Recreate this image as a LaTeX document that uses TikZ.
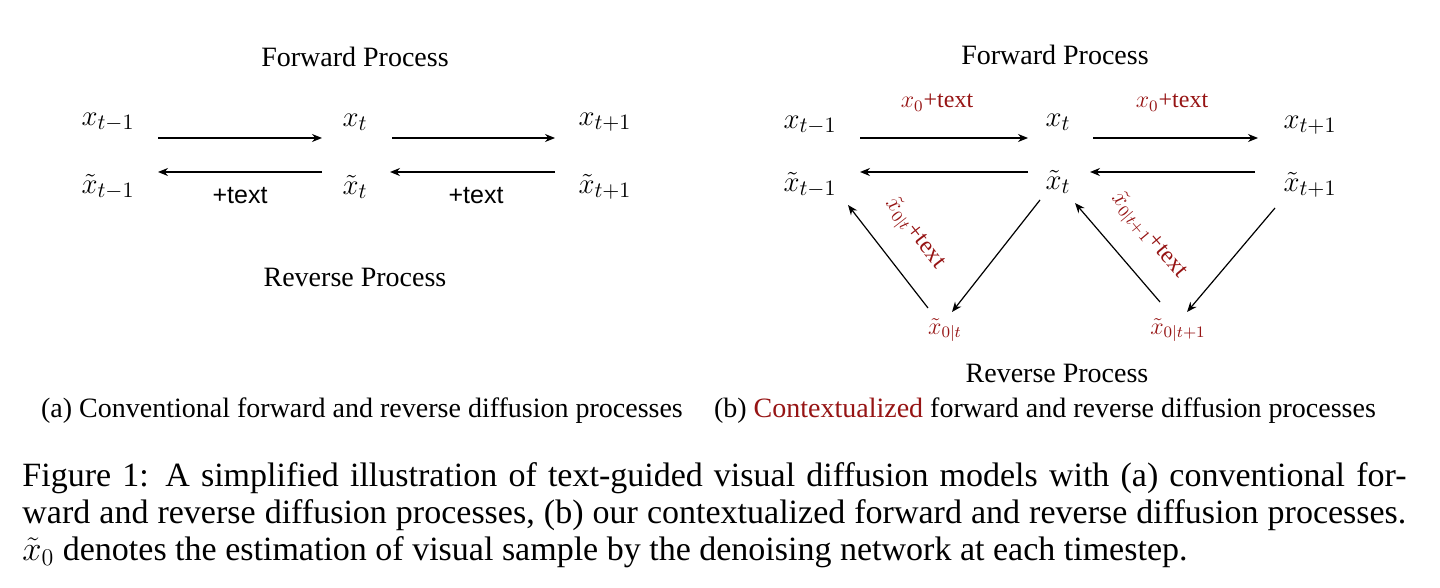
\documentclass[tikz,border=0pt]{standalone}
\usepackage{amsmath}
\usepackage{fontspec}
\setmainfont{Liberation Serif}
\setsansfont{Liberation Sans}
\usetikzlibrary{arrows.meta}
\definecolor{dred}{RGB}{150,20,20}
\begin{document}
\begin{tikzpicture}[x=0.5pt,y=-0.5pt,
  arr/.style={-{Stealth[length=5pt,width=4pt]},line width=0.6pt},
  lbl/.style={font=\fontsize{14}{16}\selectfont},
  mth/.style={font=\fontsize{15}{17}\selectfont},
  red/.style={text=dred,font=\fontsize{12}{14}\selectfont},
  sf/.style={font=\sffamily\fontsize{12.5}{14}\selectfont}]
\useasboundingbox (0,0) rectangle (1440,588);
% left
\node[lbl] (fa) at (355,57) {Forward Process};
\node[mth] (a1) at (108,122) {$x_{t-1}$};
\node[mth] (a2) at (355,122) {$x_t$};
\node[mth] (a3) at (605,122) {$x_{t+1}$};
\node[mth] (b1) at (108,187) {$\tilde{x}_{t-1}$};
\node[mth] (b2) at (355,187) {$\tilde{x}_t$};
\node[mth] (b3) at (605,187) {$\tilde{x}_{t+1}$};
\coordinate (p1) at (158,138); \coordinate (p2) at (322,138);
\coordinate (p3) at (392,138); \coordinate (p4) at (555,138);
\coordinate (q1) at (158,172); \coordinate (q2) at (322,172);
\coordinate (q3) at (390,172); \coordinate (q4) at (555,172);
\draw[arr] (p1) -- (p2); \draw[arr] (p3) -- (p4);
\draw[arr] (q2) -- (q1); \draw[arr] (q4) -- (q3);
\node[sf] (t1) at (240,196) {+text};
\node[sf] (t2) at (476,196) {+text};
\node[lbl] (ra) at (355,277) {Reverse Process};
\node[lbl] (ca) at (362,411) {(a) Conventional forward and reverse diffusion processes};
% right
\node[lbl] (fb) at (1055,55) {Forward Process};
\node[mth] (c1) at (810,125) {$x_{t-1}$};
\node[mth] (c2) at (1058,122) {$x_t$};
\node[mth] (c3) at (1310,125) {$x_{t+1}$};
\node[mth] (d1) at (810,185) {$\tilde{x}_{t-1}$};
\node[mth] (d2) at (1058,182) {$\tilde{x}_t$};
\node[mth] (d3) at (1310,185) {$\tilde{x}_{t+1}$};
\coordinate (r1) at (860,138); \coordinate (r2) at (1028,138);
\coordinate (r3) at (1093,138); \coordinate (r4) at (1258,138);
\coordinate (s1) at (860,172); \coordinate (s2) at (1028,172);
\coordinate (s3) at (1090,172); \coordinate (s4) at (1255,172);
\draw[arr] (r1) -- (r2); \draw[arr] (r3) -- (r4);
\draw[arr] (s2) -- (s1); \draw[arr] (s4) -- (s3);
\node[red] (u1) at (937,103) {$x_0$+text};
\node[red] (u2) at (1172,103) {$x_0$+text};
\node[red] (e1) at (945,330) {$\tilde{x}_{0|t}$};
\node[red] (e2) at (1178,330) {$\tilde{x}_{0|t+1}$};
\coordinate (k1) at (1040,200); \coordinate (k2) at (952,312);
\coordinate (k3) at (928,308); \coordinate (k4) at (848,205);
\coordinate (m1) at (1275,208); \coordinate (m2) at (1187,312);
\coordinate (m3) at (1160,302); \coordinate (m4) at (1075,203);
\draw[arr] (k1) -- (k2); \draw[arr] (k3) -- (k4);
\draw[arr] (m1) -- (m2); \draw[arr] (m3) -- (m4);
\node[red,rotate=-52,inner sep=1pt] (v1) at (914,234) {$\tilde{x}_{0|t}$+text};
\node[red,rotate=-50,inner sep=1pt] (v2) at (1148,236) {$\tilde{x}_{0|t+1}$+text};
\node[lbl] (rb) at (1057,373) {Reverse Process};
\node[lbl] (cb) at (1045,411) {(b) \textcolor{dred}{Contextualized} forward and reverse diffusion processes};
% caption
\node[anchor=north west,text width=692pt,inner sep=0pt,align=justify,
  font=\fontsize{17}{18.5}\selectfont] (cap) at (22,462)
 {Figure 1: A simplified illustration of text-guided visual diffusion models with (a) conventional for\-ward and reverse diffusion processes, (b) our contextualized forward and reverse diffusion processes. $\tilde{x}_0$ denotes the estimation of visual sample by the denoising network at each timestep.};
\end{tikzpicture}
\end{document}
